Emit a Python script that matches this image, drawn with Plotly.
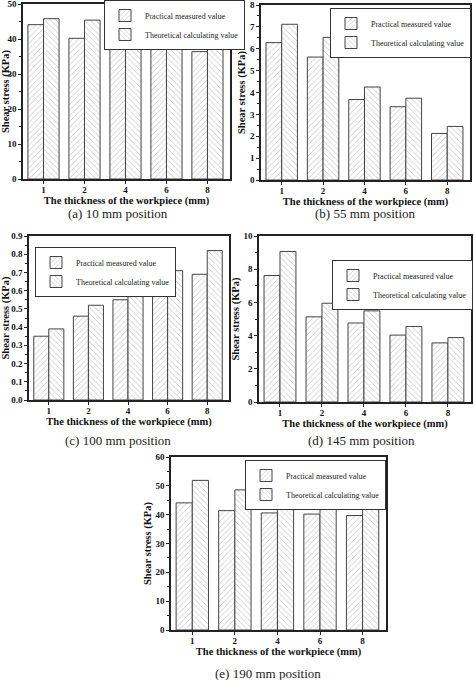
import plotly.graph_objects as go

W, H = 474, 680

thickness = ["1", "2", "4", "6", "8"]
series_names = ["Practical measured value", "Theoretical calculating value"]

practical_a = [44.1, 40.2, 39.2, 38.9, 36.4]
theoretical_a = [45.8, 45.4, 43.9, 43.2, 42.3]

practical_b = [6.28, 5.62, 3.68, 3.35, 2.13]
theoretical_b = [7.12, 6.52, 4.25, 3.74, 2.45]

practical_c = [0.35, 0.46, 0.55, 0.62, 0.69]
theoretical_c = [0.39, 0.52, 0.63, 0.71, 0.82]

practical_d = [7.62, 5.13, 4.76, 4.03, 3.56]
theoretical_d = [9.07, 5.95, 5.49, 4.55, 3.88]

practical_e = [44.1, 41.4, 40.6, 40.2, 39.7]
theoretical_e = [51.9, 48.6, 46.7, 45.2, 43.7]

captions = ["(a) 10 mm position", "(b) 55 mm position", "(c) 100 mm position",
            "(d) 145 mm position", "(e) 190 mm position"]
y_ranges = [(0, 50, 10), (0, 8, 1), (0, 0.9, 0.1), (0, 10, 2), (0, 60, 10)]
x_title = "The thickness of the workpiece (mm)"
y_title = "Shear stress (KPa)"

data = [
    (practical_a, theoretical_a),
    (practical_b, theoretical_b),
    (practical_c, theoretical_c),
    (practical_d, theoretical_d),
    (practical_e, theoretical_e),
]

# panel boxes in pixels: left, right, top, bottom
boxes = [
    (23, 230, 4, 179),
    (261, 470, 5, 180),
    (29, 229, 236, 400),
    (259, 471, 236, 402),
    (171, 386, 457, 630),
]
# legend top-left in pixels
legend_pos = [(104, 0), (330, 8), (35, 247), (332, 260), (245, 460)]
caption_pos = [(118, 213), (365, 213), (118, 440), (361, 440), (268, 673)]

SERIF = "Liberation Serif"
fig = go.Figure()

def px(x):
    return x / W

def py(y):
    return 1 - y / H

layout = dict(
    width=W, height=H, margin=dict(l=0, r=0, t=0, b=0, autoexpand=False),
    paper_bgcolor="white", plot_bgcolor="white",
    barmode="group", bargap=0.24, bargroupgap=0.0,
    font=dict(family=SERIF, color="#222"),
    showlegend=True,
)
annotations = []

for i, (prac, theo) in enumerate(data):
    n = i + 1
    xa = "x" if n == 1 else f"x{n}"
    ya = "y" if n == 1 else f"y{n}"
    lg = "legend" if n == 1 else f"legend{n}"
    for vals, name, shape in [(prac, series_names[0], "/"), (theo, series_names[1], "\\")]:
        fig.add_trace(go.Bar(
            x=thickness, y=vals, name=name, xaxis=xa, yaxis=ya, legend=lg,
            offsetgroup=name,
            marker=dict(color="white", line=dict(color="#444", width=1),
                        pattern=dict(shape=shape, fgcolor="#777", bgcolor="white",
                                     size=4, solidity=0.18)),
        ))
    l, r, t, b = boxes[i]
    lo, hi, dt = y_ranges[i]
    xkey = "xaxis" if n == 1 else f"xaxis{n}"
    ykey = "yaxis" if n == 1 else f"yaxis{n}"
    layout[xkey] = dict(
        domain=[px(l), px(r)], anchor=ya, type="category", automargin=False,
        showline=True, linecolor="#222", linewidth=1.5, mirror=True,
        ticks="outside", ticklen=3, tickcolor="#222", ticklabelstandoff=-2,
        ticklabeloverflow="allow",
        tickfont=dict(family=SERIF, size=9, color="#111", weight="bold"),
        title=dict(text=f"<b>{x_title}</b>", standoff=0,
                   font=dict(family=SERIF, size=10.5, color="#111")),
        showgrid=False, range=[-0.5, 4.55],
    )
    layout[ykey] = dict(
        domain=[py(b), py(t)], anchor=xa, range=[lo, hi], dtick=dt, automargin=False,
        tickformat=".1f" if dt < 1 else "d", ticklabeloverflow="allow",
        showline=True, linecolor="#222", linewidth=1.5, mirror=True,
        ticks="outside", ticklen=3, tickcolor="#222",
        minor=dict(ticks="outside", ticklen=2, tickcolor="#222", dtick=dt / 2),
        tickfont=dict(family=SERIF, size=9, color="#111", weight="bold"),
        title=dict(text=f"<b>{y_title}</b>", standoff=2,
                   font=dict(family=SERIF, size=10.5, color="#111")),
        showgrid=False, zeroline=False,
    )
    lx, ly = legend_pos[i]
    layout[lg] = dict(
        x=px(lx), y=py(ly), xanchor="left", yanchor="top",
        bgcolor="white", bordercolor="#333", borderwidth=1,
        font=dict(family=SERIF, size=8, color="#222"),
        tracegroupgap=0, itemwidth=30, orientation="v",
        traceorder="normal",
    )
    cx, cy = caption_pos[i]
    annotations.append(dict(
        text=captions[i], x=px(cx), y=py(cy), xref="paper", yref="paper",
        showarrow=False, xanchor="center", yanchor="middle",
        font=dict(family=SERIF, size=13, color="#222"),
    ))

layout["annotations"] = annotations
fig.update_layout(**layout)
fig.write_html("out.html",
               config={"displayModeBar": False},
               post_script="document.body.style.margin='0';document.body.style.overflow='hidden';")
